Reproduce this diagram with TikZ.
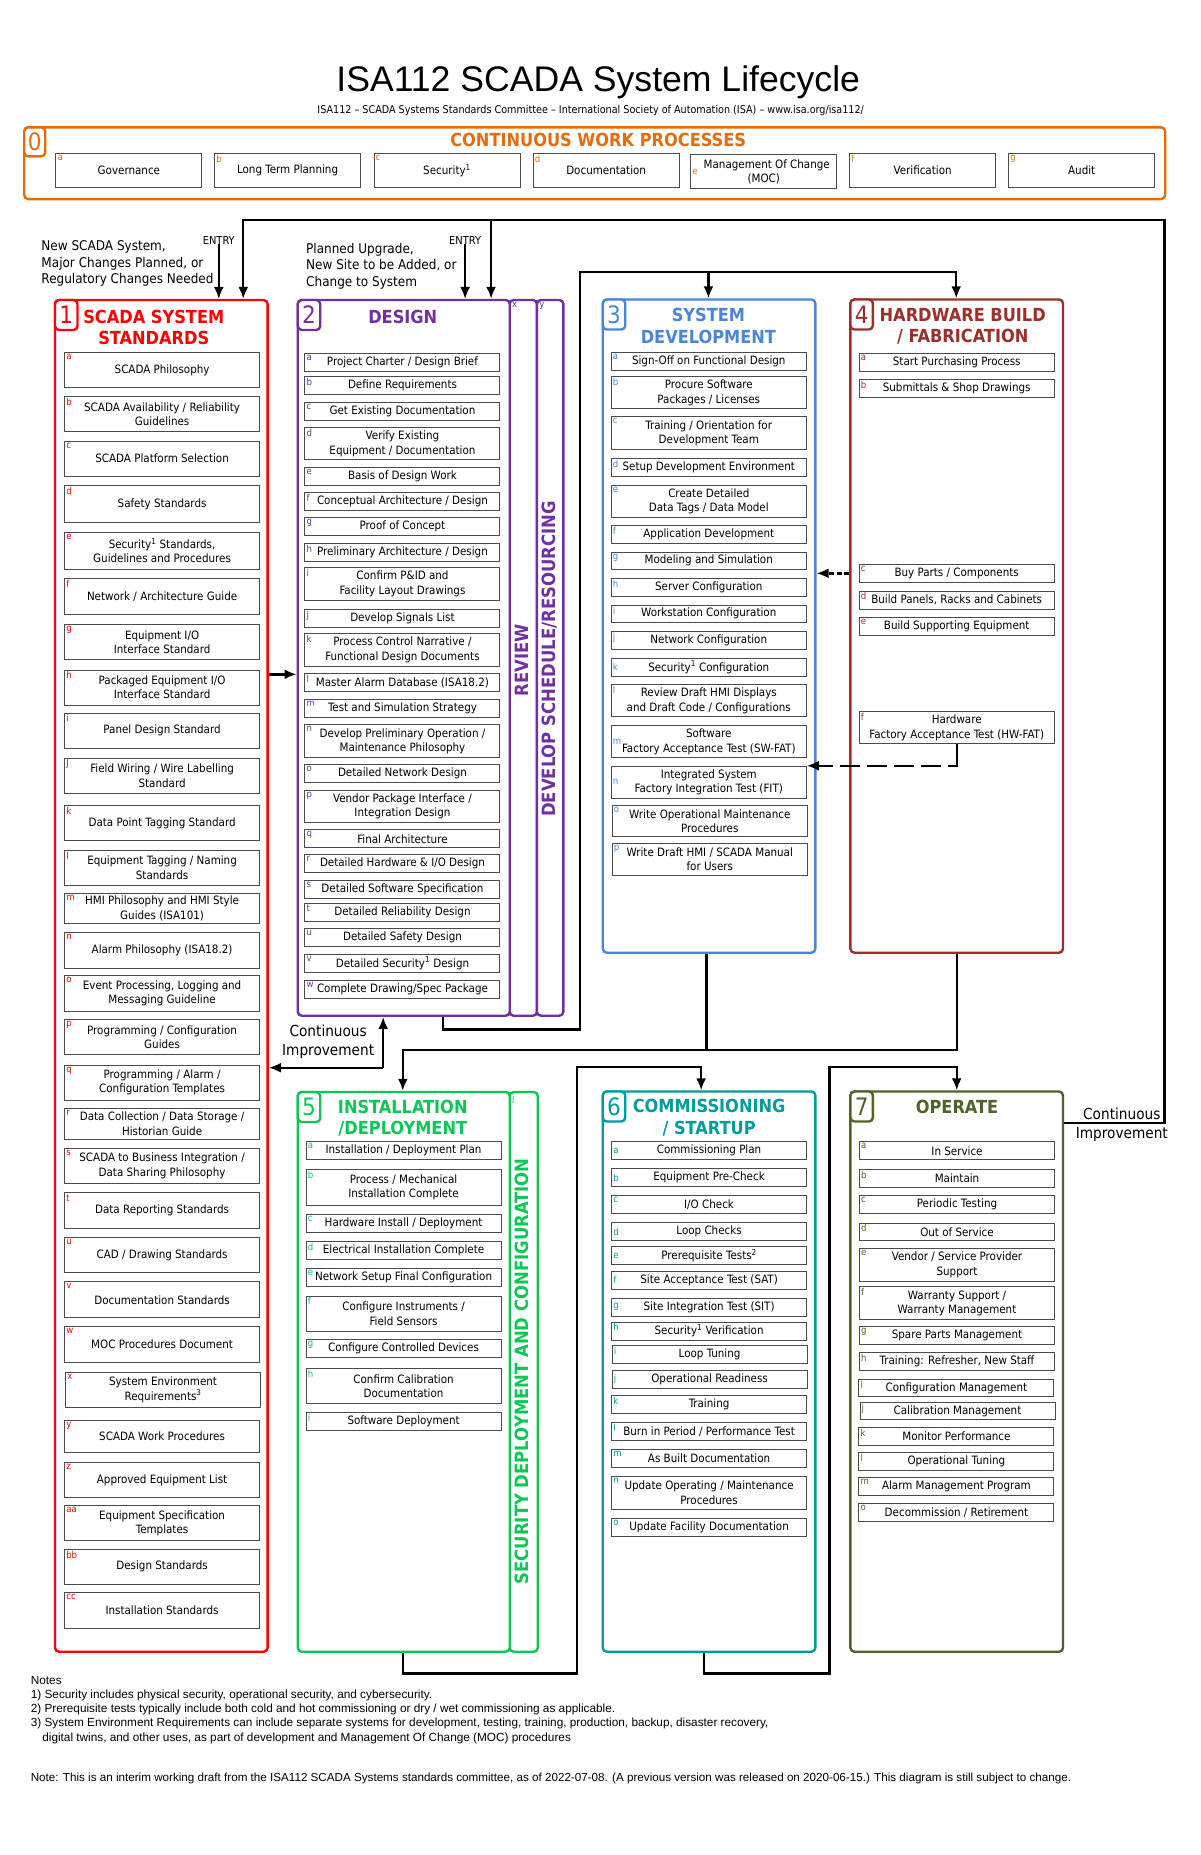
\documentclass[tikz,border=0pt]{standalone}
\usepackage{fontspec}
\usetikzlibrary{arrows.meta}
\setmainfont{DejaVu Sans Condensed}
\newfontfamily\arialfont{Liberation Sans}
\definecolor{cwpcol}{HTML}{E46C0A}
\definecolor{stdcol}{HTML}{FF0000}
\definecolor{descol}{HTML}{7030A0}
\definecolor{devcol}{HTML}{4A86D8}
\definecolor{hwcol}{HTML}{9C2F2B}
\definecolor{inscol}{HTML}{0CC655}
\definecolor{comcol}{HTML}{009B9B}
\definecolor{opcol}{HTML}{4F6228}
\definecolor{boxgray}{HTML}{4A4A4A}
\newcommand{\itemfont}{\fontsize{11.5}{14.3}\selectfont}
\newcommand{\headfont}{\fontsize{18}{21.3}\selectfont\bfseries}
\newcommand{\sidefont}{\fontsize{18.3}{21.3}\selectfont\bfseries}
\newcommand{\tagfont}{\fontsize{9.5}{10}\selectfont}
\tikzset{
        itembox/.style={draw=boxgray,fill=white,line width=1pt,minimum width=195,inner sep=0pt,align=center,font=\itemfont},
        toptag/.style 2 args={itembox,label={[font=\tagfont,inner sep=2pt,anchor=north west,text=#1]north west:#2}},
        midtag/.style 2 args={itembox,label={[font=\tagfont,inner sep=2pt,anchor=west,text=#1]west:#2}},
        cwitem/.style={toptag={cwpcol}{#1},minimum width=146,minimum height=33.6},
        stditem/.style={toptag={stdcol}{#1}},
        desitem/.style={toptag={descol}{#1}},
        devitem/.style={toptag={devcol}{#1}},
        devmid/.style={midtag={devcol}{#1}},
        hwitem/.style={toptag={hwcol}{#1}},
        insitem/.style={toptag={inscol}{#1}},
        comitem/.style={toptag={comcol}{#1}},
        commid/.style={midtag={comcol}{#1}},
        opitem/.style={toptag={opcol}{#1}},
        panelbox/.style={draw=#1,fill=white,line width=2.4pt,rounded corners=4pt,inner sep=0pt},
        numbox/.style={panelbox=#1,anchor=north west,minimum width=22.5,minimum height=30,text=#1,font=\fontsize{24}{24}\selectfont},
        headtxt/.style={text=#1,font=\headfont,align=center,inner sep=0pt},
        sidetxt/.style={text=#1,font=\sidefont,rotate=90,inner sep=0pt},
        sidetag/.style={text=#1,font=\tagfont,inner sep=3.5pt,anchor=north west},
        link/.style={draw=black,line width=2.4pt,-{Latex[length=12pt,width=10pt]}},
        thinlink/.style={link,line width=1.5pt},
        plainlink/.style={draw=black,line width=2.4pt},
        plaintxt/.style={font=\fontsize{13.4}{16.5}\selectfont,align=left,inner sep=0pt,anchor=north west},
        citxt/.style={font=\fontsize{15.2}{19}\selectfont,align=center,inner sep=0pt}
}
\begin{document}
\begin{tikzpicture}[x=0.9945pt,y=-1pt]

        \def\colstd{163}
        \def\coldes{404.7}
        \def\coldev{712.7}
        \def\colhw{962}
        \def\colins{405.8}
        \def\colcom{713}
        \def\colop{962.3}
        \useasboundingbox (0,0) rectangle (1206.64,1855);
%        \draw[style=help lines, step=100] (0,0) grid (1200,1855);

        \node[font=\arialfont\fontsize{35.6}{37}\selectfont,inner sep=0pt] (title) at (601.5,82.4) {ISA112 SCADA System Lifecycle};
        \node[font=\fontsize{10.7}{12}\selectfont,inner sep=0pt] (subtitle) at (594,111) {ISA112 – SCADA Systems Standards Committee – International Society of Automation (ISA) – www.isa.org/isa112/};

        \node[panelbox=cwpcol,minimum width=1141,minimum height=71.7] (cwp) at (598,163.2) {};
        \node[numbox=cwpcol,minimum width=21,minimum height=29] (num0) at (cwp.north west) {0};
        \node[headtxt=cwpcol] (cwphead) at (601.5,140) {CONTINUOUS WORK PROCESSES};
        \node[cwitem=a] (cwa) at (129.6,170.5) {Governance};
        \node[cwitem=b] (cwb) at (289.2,170.5) {Long Term Planning};
        \node[cwitem=c] (cwc) at (449.5,170.5) {Security\textsuperscript{1}};
        \node[cwitem=d] (cwd) at (609.5,170.5) {Documentation};
        \node[midtag={cwpcol}{e},minimum width=146,minimum height=34] (cwe) at (768,171.7) {\hspace{6pt}Management Of Change\\(MOC)};
        \node[cwitem=f] (cwf) at (927.7,170.5) {Verification};
        \node[cwitem=g] (cwg) at (1087.7,170.5) {Audit};

        \node[panelbox=stdcol,minimum width=212.6,minimum height=1351.7] (scada) at (162.2,975.85) {};
        \node[panelbox=descol,minimum width=27.5,minimum height=715.7] (review) at (526.2,657.85) {};
        \node[panelbox=descol,minimum width=26.5,minimum height=715.7] (resource) at (553.2,657.85) {};
        \node[panelbox=descol,minimum width=212,minimum height=715.7] (design) at (406,657.85) {};
        \node[panelbox=devcol,minimum width=212.6,minimum height=653.2] (sysdev) at (713,626.1) {};
        \node[panelbox=hwcol,minimum width=212.6,minimum height=653.2] (hardware) at (962,626.1) {};
        \node[panelbox=inscol,minimum width=28.2,minimum height=559.7] (secure) at (526.6,1371.85) {};
        \node[panelbox=inscol,minimum width=212,minimum height=559.7] (install) at (406,1371.85) {};
        \node[panelbox=comcol,minimum width=212.6,minimum height=560.2] (commis) at (713,1371.6) {};
        \node[panelbox=opcol,minimum width=212.6,minimum height=560.2] (operate) at (962,1371.6) {};

        \node[numbox=stdcol] (num1) at (scada.north west) {1};
        \node[numbox=descol] (num2) at (design.north west) {2};
        \node[numbox=devcol] (num3) at (sysdev.north west) {3};
        \node[numbox=hwcol] (num4) at (hardware.north west) {4};
        \node[numbox=inscol] (num5) at (install.north west) {5};
        \node[numbox=comcol] (num6) at (commis.north west) {6};
        \node[numbox=opcol] (num7) at (operate.north west) {7};

        \node[headtxt=stdcol] (stdhead) at (154.6,327.5) {SCADA SYSTEM\\STANDARDS};
        \node[headtxt=descol] (deshead) at (405,316.5) {DESIGN};
        \node[headtxt=devcol] (devhead) at (712.3,326) {SYSTEM\\DEVELOPMENT};
        \node[headtxt=hwcol] (hwhead) at (968,326) {HARDWARE BUILD\\/ FABRICATION};
        \node[headtxt=inscol] (inshead) at (405,1118.2) {INSTALLATION\\/DEPLOYMENT};
        \node[headtxt=comcol] (comhead) at (713,1117.5) {COMMISSIONING\\/ STARTUP};
        \node[headtxt=opcol] (ophead) at (962.3,1107) {OPERATE};

        \node[sidetag=descol] (reviewtag) at (review.north west) {x};
        \node[sidetag=descol] (resourcetag) at (resource.north west) {y};
        \node[sidetag=inscol] (securetag) at (secure.north west) {j};
        \node[sidetxt=descol] (reviewtxt) at (525,660) {REVIEW};
        \node[sidetxt=descol] (resourcetxt) at (552.5,659) {DEVELOP SCHEDULE/RESOURCING};
        \node[sidetxt=inscol] (securetxt) at (525,1371.3) {SECURITY DEPLOYMENT AND CONFIGURATION};

        \node[stditem=a,minimum height=35] (stda) at (\colstd,370.2) {SCADA Philosophy};
        \node[stditem=b,minimum height=34.6] (stdb) at (\colstd,414) {SCADA Availability / Reliability\\Guidelines};
        \node[stditem=c,minimum height=34.7] (stdc) at (\colstd,458.7) {SCADA Platform Selection};
        \node[stditem=d,minimum height=37] (stdd) at (\colstd,504.2) {Safety Standards};
        \node[stditem=e,minimum height=37] (stde) at (\colstd,550.8) {Security\textsuperscript{1} Standards,\\Guidelines and Procedures};
        \node[stditem=f,minimum height=35.7] (stdf) at (\colstd,596.8) {Network / Architecture Guide};
        \node[stditem=g,minimum height=35.4] (stdg) at (\colstd,642) {Equipment I/O\\Interface Standard};
        \node[stditem=h,minimum height=35] (stdh) at (\colstd,687.5) {Packaged Equipment I/O\\Interface Standard};
        \node[stditem=i,minimum height=35.3] (stdi) at (\colstd,730.7) {Panel Design Standard};
        \node[stditem=J,minimum height=35] (stdj) at (\colstd,775.8) {Field Wiring / Wire Labelling\\Standard};
        \node[stditem=k,minimum height=35] (stdk) at (\colstd,823.2) {Data Point Tagging Standard};
        \node[stditem=l,minimum height=35] (stdl) at (\colstd,867.8) {Equipment Tagging / Naming\\Standards};
        \node[stditem=m,minimum height=30] (stdm) at (\colstd,908.3) {HMI Philosophy and HMI Style\\Guides (ISA101)};
        \node[stditem=n,minimum height=36] (stdn) at (\colstd,950.7) {Alarm Philosophy (ISA18.2)};
        \node[stditem=o,minimum height=35.6] (stdo) at (\colstd,993.5) {Event Processing, Logging and\\Messaging Guideline};
        \node[stditem=p,minimum height=35.3] (stdp) at (\colstd,1037.3) {Programming / Configuration\\Guides};
        \node[stditem=q,minimum height=35] (stdq) at (\colstd,1082.5) {Programming / Alarm /\\Configuration Templates};
        \node[stditem=r,minimum height=30.7] (stdr) at (\colstd,1123.7) {Data Collection / Data Storage /\\Historian Guide};
        \node[stditem=s,minimum height=35.3] (stds) at (\colstd,1165.7) {SCADA to Business Integration /\\Data Sharing Philosophy};
        \node[stditem=t,minimum height=35.6] (stdt) at (\colstd,1210.5) {Data Reporting Standards};
        \node[stditem=u,minimum height=35.4] (stdu) at (\colstd,1255) {CAD / Drawing Standards};
        \node[stditem=v,minimum height=35.7] (stdv) at (\colstd,1299.8) {Documentation Standards};
        \node[stditem=w,minimum height=35.6] (stdw) at (\colstd,1344.5) {MOC Procedures Document};
        \node[stditem=x,minimum height=35] (stdx) at (164,1389.8) {System Environment\\Requirements\textsuperscript{3}};
        \node[stditem=y,minimum height=32.4] (stdy) at (\colstd,1436.5) {SCADA Work Procedures};
        \node[stditem=z,minimum height=35] (stdz) at (\colstd,1480.2) {Approved Equipment List};
        \node[stditem=aa,minimum height=35.3] (stdaa) at (\colstd,1523.3) {Equipment Specification\\Templates};
        \node[stditem=bb,minimum height=35] (stdbb) at (\colstd,1566.8) {Design Standards};
        \node[stditem=cc,minimum height=35.6] (stdcc) at (\colstd,1610.5) {Installation Standards};

        \node[desitem=a,minimum height=17.7] (desa) at (\coldes,362.2) {Project Charter / Design Brief};
        \node[desitem=b,minimum height=17.6] (desb) at (\coldes,385.5) {Define Requirements};
        \node[desitem=c,minimum height=18] (desc) at (\coldes,411.3) {Get Existing Documentation};
        \node[desitem=d,minimum height=32.3] (desd) at (\coldes,443.8) {Verify Existing\\Equipment / Documentation};
        \node[desitem=e,minimum height=17.6] (dese) at (\coldes,476.5) {Basis of Design Work};
        \node[desitem=f,minimum height=18.3] (desf) at (\coldes,501.8) {Conceptual Architecture / Design};
        \node[desitem=g,minimum height=18] (desg) at (\coldes,526.7) {Proof of Concept};
        \node[desitem=h,minimum height=17.7] (desh) at (\coldes,552.2) {Preliminary Architecture / Design};
        \node[desitem=i,minimum height=33] (desi) at (\coldes,583.8) {Confirm P\&ID and\\Facility Layout Drawings};
        \node[desitem=j,minimum height=18] (desj) at (\coldes,618.3) {Develop Signals List};
        \node[desitem=k,minimum height=33] (desk) at (\coldes,649.8) {Process Control Narrative /\\Functional Design Documents};
        \node[desitem=l,minimum height=18.4] (desl) at (\coldes,682.5) {Master Alarm Database (ISA18.2)};
        \node[desitem=m,minimum height=18] (desm) at (\coldes,708.3) {Test and Simulation Strategy};
        \node[desitem=n,minimum height=32.6] (desn) at (\coldes,741) {Develop Preliminary Operation /\\Maintenance Philosophy};
        \node[desitem=o,minimum height=18] (deso) at (\coldes,773.7) {Detailed Network Design};
        \node[desitem=p,minimum height=32.4] (desp) at (\coldes,806.5) {Vendor Package Interface /\\Integration Design};
        \node[desitem=q,minimum height=17.7] (desq) at (\coldes,838.8) {Final Architecture};
        \node[desitem=r,minimum height=18] (desr) at (\coldes,863.7) {Detailed Hardware \& I/O Design};
        \node[desitem=s,minimum height=18] (dess) at (\coldes,889) {Detailed Software Specification};
        \node[desitem=t,minimum height=18] (dest) at (\coldes,912.3) {Detailed Reliability Design};
        \node[desitem=u,minimum height=17.6] (desu) at (\coldes,937.5) {Detailed Safety Design};
        \node[desitem=v,minimum height=17.7] (desv) at (\coldes,963.2) {Detailed Security\textsuperscript{1} Design};
        \node[desitem=w,minimum height=17.7] (desw) at (\coldes,989.2) {Complete Drawing/Spec Package};

        \node[devitem=a,minimum height=18] (deva) at (\coldev,361) {Sign-Off on Functional Design};
        \node[devitem=b,minimum height=32] (devb) at (\coldev,392.7) {Procure Software\\Packages / Licenses};
        \node[devitem=c,minimum height=32.6] (devc) at (\coldev,433) {Training / Orientation for\\Development Team};
        \node[devitem=d,minimum height=17.6] (devd) at (\coldev,467.5) {Setup Development Environment};
        \node[devitem=e,minimum height=32.3] (deve) at (\coldev,501.2) {Create Detailed\\Data Tags / Data Model};
        \node[devitem=f,minimum height=18] (devf) at (\coldev,534.3) {Application Development};
        \node[devitem=g,minimum height=17.3] (devg) at (\coldev,560.7) {Modeling and Simulation};
        \node[devitem=h,minimum height=17.6] (devh) at (\coldev,587.5) {Server Configuration};
        \node[devitem=i,minimum height=17] (devi) at (\coldev,613.8) {Workstation Configuration};
        \node[devitem=j,minimum height=17.6] (devj) at (\coldev,640.5) {Network Configuration};
        \node[devmid=k,minimum height=17.7] (devk) at (\coldev,667.2) {Security\textsuperscript{1} Configuration};
        \node[devitem=l,minimum height=32] (devl) at (\coldev,700.7) {Review Draft HMI Displays\\and Draft Code / Configurations};
        \node[devmid=m,minimum height=32.3] (devm) at (\coldev,741.8) {Software\\Factory Acceptance Test (SW-FAT)};
        \node[devmid=n,minimum height=32] (devn) at (\coldev,782.3) {Integrated System\\Factory Integration Test (FIT)};
        \node[devitem=o,minimum height=31.3] (devo) at (713.7,821.3) {Write Operational Maintenance\\Procedures};
        \node[devitem=p,minimum height=31.6] (devp) at (713.7,859.5) {Write Draft HMI / SCADA Manual\\for Users};

        \node[hwitem=a,minimum height=17.7] (hwa) at (\colhw,362.2) {Start Purchasing Process};
        \node[hwitem=b,minimum height=17.6] (hwb) at (\colhw,388.5) {Submittals \& Shop Drawings};
        \node[hwitem=c,minimum height=18] (hwc) at (\colhw,573.3) {Buy Parts / Components};
        \node[hwitem=d,minimum height=18] (hwd) at (\colhw,600) {Build Panels, Racks and Cabinets};
        \node[hwitem=e,minimum height=17.6] (hwe) at (\colhw,626.5) {Build Supporting Equipment};
        \node[hwitem=f,minimum height=32.3] (hwf) at (\colhw,727.8) {Hardware\\Factory Acceptance Test (HW-FAT)};

        \node[insitem=a,minimum height=18.3] (insa) at (\colins,1150.8) {Installation / Deployment Plan};
        \node[insitem=b,minimum height=35.7] (insb) at (\colins,1187.2) {Process / Mechanical\\Installation Complete};
        \node[insitem=c,minimum height=17.7] (insc) at (\colins,1223.2) {Hardware Install / Deployment};
        \node[insitem=d,minimum height=18] (insd) at (\colins,1250.3) {Electrical Installation Complete};
        \node[insitem=e,minimum height=17.6] (inse) at (\colins,1277.5) {Network Setup Final Configuration};
        \node[insitem=f,minimum height=35.3] (insf) at (\colins,1313.7) {Configure Instruments /\\Field Sensors};
        \node[insitem=g,minimum height=17.7] (insg) at (\colins,1348.2) {Configure Controlled Devices};
        \node[insitem=h,minimum height=35.4] (insh) at (\colins,1386) {Confirm Calibration\\Documentation};
        \node[insitem=i,minimum height=17.6] (insi) at (\colins,1421.5) {Software Deployment};

        \node[commid=a,minimum height=18.3] (coma) at (\colcom,1150.8) {Commissioning Plan};
        \node[commid=b,minimum height=18.3] (comb) at (\colcom,1177.8) {Equipment Pre-Check};
        \node[comitem=c,minimum height=18] (comc) at (\colcom,1204.3) {I/O Check};
        \node[commid=d,minimum height=17.6] (comd) at (\colcom,1231.5) {Loop Checks};
        \node[commid=e,minimum height=17.6] (come) at (\colcom,1255.5) {Prerequisite Tests\textsuperscript{2}};
        \node[commid=f,minimum height=17.7] (comf) at (\colcom,1280.2) {Site Acceptance Test (SAT)};
        \node[commid=g,minimum height=17.7] (comg) at (\colcom,1307.2) {Site Integration Test (SIT)};
        \node[comitem=h,minimum height=18] (comh) at (\colcom,1331) {Security\textsuperscript{1} Verification};
        \node[comitem=i,minimum height=17.7] (comi) at (713.5,1354.2) {Loop Tuning};
        \node[commid=j,minimum height=17.7] (comj) at (713.5,1379.2) {Operational Readiness};
        \node[comitem=k,minimum height=17.7] (comk) at (\colcom,1404.8) {Training};
        \node[comitem=l,minimum height=17.6] (coml) at (\colcom,1431.5) {Burn in Period / Performance Test};
        \node[comitem=m,minimum height=17.6] (comm) at (\colcom,1458.5) {As Built Documentation};
        \node[comitem=n,minimum height=33] (comn) at (\colcom,1492.8) {Update Operating / Maintenance\\Procedures};
        \node[comitem=o,minimum height=18] (como) at (\colcom,1527.7) {Update Facility Documentation};

        \node[opitem=a,minimum height=18.3] (opa) at (\colop,1150.8) {In Service};
        \node[opitem=b,minimum height=17.7] (opb) at (\colop,1178.2) {Maintain};
        \node[opitem=c,minimum height=17.7] (opc) at (\colop,1204.8) {Periodic Testing};
        \node[opitem=d,minimum height=17.3] (opd) at (\colop,1231.7) {Out of Service};
        \node[opitem=e,minimum height=33] (ope) at (\colop,1264.8) {Vendor / Service Provider\\Support};
        \node[opitem=f,minimum height=33.3] (opf) at (\colop,1303.3) {Warranty Support /\\Warranty Management};
        \node[opitem=g,minimum height=18] (opg) at (\colop,1335) {Spare Parts Management};
        \node[opitem=h,minimum height=17.7] (oph) at (\colop,1361.2) {Training: Refresher, New Staff};
        \node[opitem=i,minimum height=17.4] (opi) at (961.7,1388) {Configuration Management};
        \node[opitem=j,minimum height=17.4] (opj) at (962.8,1411) {Calibration Management};
        \node[opitem=k,minimum height=17.6] (opk) at (961.7,1436.5) {Monitor Performance};
        \node[opitem=l,minimum height=17.7] (opl) at (961.7,1461.2) {Operational Tuning};
        \node[opitem=m,minimum height=17.7] (opm) at (961.7,1486.8) {Alarm Management Program};
        \node[opitem=o,minimum height=17.6] (opo) at (961.7,1512.5) {Decommission / Retirement};

        \node[plaintxt] (newtxt) at (41.5,240.5) {New SCADA System,\\Major Changes Planned, or\\Regulatory Changes Needed};
        \node[plaintxt] (plantxt) at (307.7,243) {Planned Upgrade,\\New Site to be Added, or\\Change to System};
        \node[font=\fontsize{11}{12}\selectfont,inner sep=0pt] (entrya) at (220,240) {ENTRY};
        \node[font=\fontsize{11}{12}\selectfont,inner sep=0pt] (entryb) at (467.7,240) {ENTRY};
        \node[citxt] (cione) at (330,1042) {Continuous\\Improvement};
        \node[citxt] (citwo) at (1128,1124.6) {Continuous\\Improvement};

        \coordinate (backb) at (1170.8,1123);
        \coordinate (backt) at (1170.8,220);
        \coordinate (entrstd) at (244.6,220);
        \coordinate (entrdes) at (493.8,220);
        \coordinate (stdout) at (280,674.3);
        \coordinate (revb) at (445.3,1029.3);
        \coordinate (revc) at (583,1029.3);
        \coordinate (revt) at (583,272);
        \coordinate (revhw) at (961.5,272);
        \coordinate (revdev) at (712.3,272);
        \coordinate (impr) at (385.3,1067.7);
        \coordinate (bus) at (405,1049.7);
        \coordinate (busdev) at (710.4,1049.7);
        \coordinate (insb1) at (405.4,1673.3);
        \coordinate (insb2) at (580,1673.3);
        \coordinate (insb3) at (580,1067);
        \coordinate (insb4) at (705,1067);
        \coordinate (comb1) at (707.7,1673.3);
        \coordinate (comb2) at (834,1673.3);
        \coordinate (comb3) at (834,1067);
        \coordinate (comb4) at (962,1067);

        \draw[link] (operate.east |- backb) -- (backb) -- (backt) -- (entrstd) -- (scada.north -| entrstd);
        \draw[link] (entrdes) -- (design.north -| entrdes);
        \draw[thinlink] (entrya.south) -- (scada.north -| entrya);
        \draw[thinlink] (entryb.south) -- (design.north -| entryb);
        \draw[link] (scada.east |- stdout) -- (design.west |- stdout);
        \draw[link] (design.south -| revb) -- (revb) -- (revc) -- (revt) -- (revhw) -- (hardware.north -| revhw);
        \draw[link] (revdev) -- (sysdev.north -| revdev);
        \draw[link] (impr) -- (design.south -| impr);
        \draw[link] (impr) -- (scada.east |- impr);
        \draw[link,dash pattern=on 5pt off 2.5pt] (hardware.west |- hwc) -- (sysdev.east |- hwc);
        \draw[link,dash pattern=on 30pt off 7pt on 20pt off 7pt on 20pt off 7pt on 20pt off 7pt on 20pt off 7pt on 20pt off 7pt on 20pt off 7pt] (hwf.south) -- (hwf.south |- devn.north east) -- (devn.north east);
        \draw[plainlink] (sysdev.south -| busdev) -- (busdev);
        \draw[link] (hardware.south) -- (hardware.south |- bus) -- (bus) -- (install.north -| bus);
        \draw[link] (install.south -| insb1) -- (insb1) -- (insb2) -- (insb3) -- (insb4) -- (commis.north -| insb4);
        \draw[link] (commis.south -| comb1) -- (comb1) -- (comb2) -- (comb3) -- (comb4) -- (operate.north -| comb4);

        \node[font=\arialfont\fontsize{11.8}{14.2}\selectfont,align=left,inner sep=0pt,anchor=north west] (notes) at (30.8,1675.9) {Notes\\1) Security includes physical security, operational security, and cybersecurity.\\2) Prerequisite tests typically include both cold and hot commissioning or dry / wet commissioning as applicable.\\3) System Environment Requirements can include separate systems for development, testing, training, production, backup, disaster recovery,\\\hspace*{11.5pt}digital twins, and other uses, as part of development and Management Of Change (MOC) procedures};
        \node[font=\arialfont\fontsize{11.65}{14.2}\selectfont,inner sep=0pt,anchor=west] (draftnote) at (30.8,1778) {Note: This is an interim working draft from the ISA112 SCADA Systems standards committee, as of 2022-07-08. (A previous version was released on 2020-06-15.) This diagram is still subject to change.};

\end{tikzpicture}
\end{document}
